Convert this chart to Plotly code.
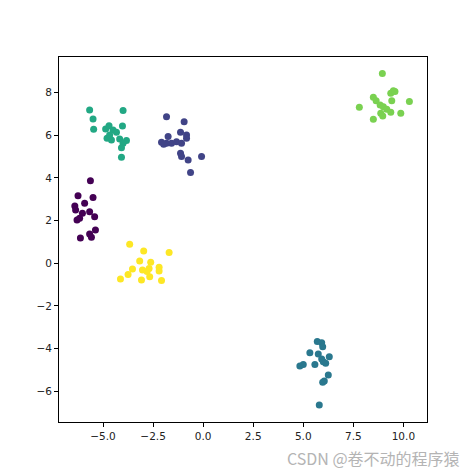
import plotly.graph_objects as go

# Cluster data (label -> points)
cluster_labels = [0, 1, 2, 3, 4, 5]
cluster_colors = ["#440154", "#414487", "#2a788e", "#22a884", "#7ad151", "#fde725"]

x0 = [-5.63, -6.25, -5.5, -6.41, -5.92, -6.37, -5.67, -6.03, -5.42, -6.17, -6.3, -5.38, -5.67, -5.58, -6.13]
y0 = [3.87, 3.16, 3.08, 2.69, 2.81, 2.5, 2.42, 2.34, 2.18, 2.11, 2.03, 1.56, 1.37, 1.22, 1.19]

x1 = [-1.83, -0.95, -1.13, -0.83, -1.75, -0.83, -2.08, -1.83, -1.58, -1.33, -1.08, -1.97, -1.13, -1.08, -0.75, -0.08, -0.63]
y1 = [6.87, 6.64, 6.14, 6.01, 5.94, 5.86, 5.67, 5.63, 5.63, 5.7, 5.63, 5.58, 5.16, 5.0, 4.84, 5.0, 4.25]

x2 = [5.7, 5.92, 5.97, 5.33, 5.75, 6.3, 5.92, 5.58, 6.0, 5.0, 4.83, 6.25, 6.05, 5.97, 5.8, 6.12]
y2 = [-3.67, -3.72, -3.91, -4.19, -4.25, -4.38, -4.49, -4.74, -4.61, -4.74, -4.81, -5.24, -5.52, -5.58, -6.64, -4.69]

x3 = [-5.67, -4.0, -5.5, -5.47, -4.87, -4.7, -4.03, -4.5, -4.33, -4.8, -4.58, -4.17, -3.83, -4.0, -4.08, -4.08, -4.67]
y3 = [7.19, 7.16, 6.76, 6.28, 6.3, 6.45, 6.44, 6.25, 6.14, 5.86, 5.78, 5.83, 5.75, 5.63, 5.42, 4.97, 6.01]

x4 = [8.95, 9.5, 9.37, 9.58, 8.5, 8.64, 9.42, 10.3, 8.84, 9.0, 7.8, 9.17, 8.87, 9.37, 9.87, 8.5, 8.97]
y4 = [8.9, 8.09, 7.97, 8.05, 7.78, 7.62, 7.62, 7.58, 7.42, 7.34, 7.31, 7.22, 7.03, 7.08, 7.03, 6.75, 6.9]

x5 = [-3.67, -2.97, -1.7, -3.17, -2.62, -2.2, -3.53, -3.03, -2.7, -2.8, -3.75, -2.2, -2.67, -4.13, -3.08, -2.08]
y5 = [0.89, 0.58, 0.51, 0.11, 0.05, -0.19, -0.27, -0.31, -0.24, -0.39, -0.52, -0.36, -0.63, -0.74, -0.78, -0.81]

xs = [x0, x1, x2, x3, x4, x5]
ys = [y0, y1, y2, y3, y4, y5]

x_ticks = [-5.0, -2.5, 0.0, 2.5, 5.0, 7.5, 10.0]
y_ticks = [-6, -4, -2, 0, 2, 4, 6, 8]

fig = go.Figure()
for lab, xv, yv in zip(cluster_labels, xs, ys):
    fig.add_trace(go.Scatter(
        x=xv, y=yv, mode="markers",
        marker=dict(color=cluster_colors[lab], size=7, line=dict(width=0)),
        showlegend=False, hoverinfo="skip",
    ))

axis_common = dict(
    showgrid=False, zeroline=False, showline=True, linecolor="black", linewidth=1,
    mirror=True, ticks="outside", ticklen=4, tickcolor="black", tickwidth=1,
    tickfont=dict(family="DejaVu Sans", size=10.5, color="#222222"),
)

fig.update_xaxes(range=[-7.2, 11.18], tickvals=x_ticks,
                 ticktext=[f"{v:.1f}".replace("-", "\u2212") for v in x_ticks], **axis_common)
fig.update_yaxes(range=[-7.44, 9.67], tickvals=y_ticks,
                 ticktext=[str(v).replace("-", "\u2212") for v in y_ticks], **axis_common)

fig.add_annotation(
    text="CSDN @卷不动的程序猿", xref="paper", yref="paper",
    x=1.095, y=-0.099, xanchor="right", yanchor="middle", showarrow=False,
    font=dict(family="Noto Sans CJK SC", size=16, color="#b4b4b4"),
)

fig.update_layout(
    width=466, height=466,
    margin=dict(l=51, r=47, t=49, b=52),
    plot_bgcolor="white", paper_bgcolor="white",
)

fig.write_html("out.html")
